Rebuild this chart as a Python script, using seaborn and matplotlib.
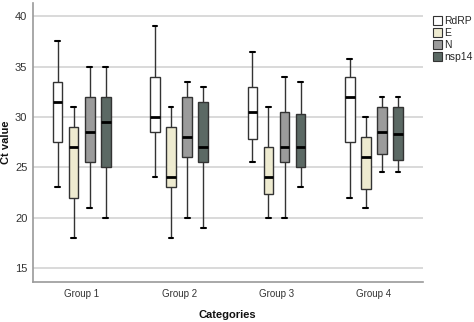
import numpy as np
import pandas as pd
import seaborn as sns
import matplotlib
matplotlib.use("Agg")
import matplotlib.pyplot as plt
from matplotlib.patches import Patch

categories = ["Group 1", "Group 2", "Group 3", "Group 4"]
genes = ["RdRP", "E", "N", "nsp14"]
colors = ["#FFFFFF", "#EEEBD0", "#9B9B9B", "#5B6964"]

# five-number summaries per gene: [min, Q1, median, Q3, max] for Group 1..4
RdRP = [[23, 27.5, 31.5, 33.5, 37.5], [24, 28.5, 30, 34, 39], [25.5, 27.8, 30.5, 33, 36.5], [22, 27.5, 32, 34, 35.8]]
E = [[18, 22, 27, 29, 31], [18, 23, 24, 29, 31], [20, 22.3, 24, 27, 31], [21, 22.8, 26, 28, 30]]
N = [[21, 25.5, 28.5, 32, 35], [20, 26, 28, 32, 33.5], [20, 25.5, 27, 30.5, 34], [24.5, 26.3, 28.5, 31, 32]]
nsp14 = [[20, 25, 29.5, 32, 35], [19, 25.5, 27, 31.5, 33], [23, 25, 27, 30.3, 33.5], [24.5, 25.7, 28.3, 31, 32]]

series = {"RdRP": RdRP, "E": E, "N": N, "nsp14": nsp14}
rows = []
for g in genes:
    for cat, vals in zip(categories, series[g]):
        for v in vals:
            rows.append({"Categories": cat, "Gene": g, "Ct value": v})
df = pd.DataFrame(rows)

sns.set_style("white")
plt.rcParams["font.family"] = ["Liberation Sans", "DejaVu Sans"]

fig = plt.figure(figsize=(4.74, 3.22), dpi=100)
ax = fig.add_axes([0.0696, 0.124, 0.822, 0.866])

sns.boxplot(data=df, x="Categories", y="Ct value", hue="Gene", order=categories,
            hue_order=genes, palette=colors, width=0.66, gap=0.4, whis=np.inf,
            linewidth=1.0, linecolor="#333333", saturation=1,
            medianprops={"color": "black", "linewidth": 2.0},
            whiskerprops={"color": "#333333", "linewidth": 1.0},
            capprops={"color": "black", "linewidth": 1.5},
            legend=False, ax=ax, zorder=3)

ax.set_ylim(13.6, 41.3)
ax.set_xlim(-0.5, 3.5)
ax.set_yticks([15, 20, 25, 30, 35, 40])
ax.yaxis.grid(True, color="#D3D3D3", linewidth=1.2, zorder=0)
ax.set_axisbelow(True)
for s in ["top", "right"]:
    ax.spines[s].set_visible(False)
for s in ["left", "bottom"]:
    ax.spines[s].set_color("#9A9A9A")
    ax.spines[s].set_linewidth(1.2)
ax.tick_params(axis="both", length=0, colors="#333333")
ax.tick_params(axis="y", labelsize=8, pad=4)
ax.tick_params(axis="x", labelsize=7, pad=5)
ax.set_xlabel("Categories", fontsize=8, fontweight="bold", labelpad=8, color="#111111")
ax.set_ylabel("Ct value", fontsize=8, fontweight="bold", color="#111111")
ax.yaxis.set_label_coords(-27 / 390, 0.5)
ax.yaxis.label.set_verticalalignment("center")

handles = [Patch(facecolor=c, edgecolor="#333333", linewidth=0.8, label=g) for c, g in zip(colors, genes)]
fig.legend(handles=handles, loc="upper left", bbox_to_anchor=(433 / 474, 1 - 16 / 322),
           frameon=False, fontsize=7.5, handlelength=0.9, handleheight=0.9,
           handletextpad=0.15, labelspacing=0.2, borderpad=0, borderaxespad=0)

fig.savefig("out.png", dpi=100)
